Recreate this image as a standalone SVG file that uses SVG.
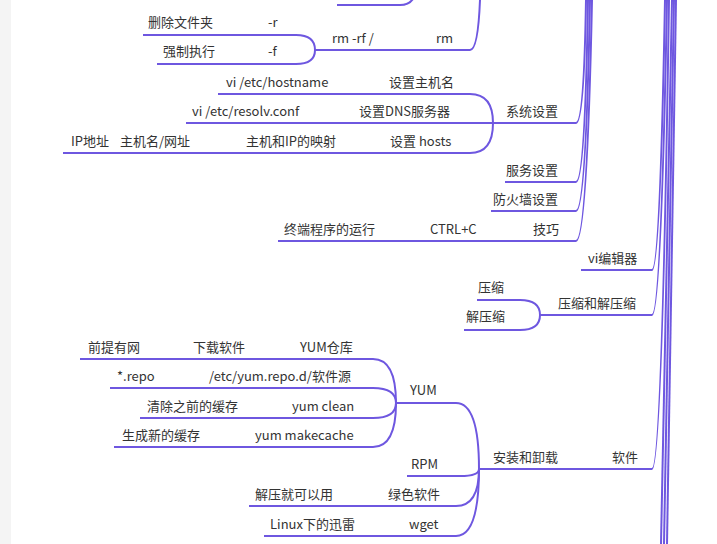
<svg xmlns="http://www.w3.org/2000/svg" width="717" height="544" viewBox="0 0 717 544">
<style>
text{font-family:"Noto Sans CJK SC","Noto Sans",sans-serif;font-size:13px;fill:#333}
.c path{fill:none;stroke:#6e57e0;stroke-width:2}
</style>
<rect width="717" height="544" fill="#fff"/>
<rect width="11" height="544" fill="#f4f4f4"/>
<g class="c" id="connectors">
<path d="M337,5 H400 Q414,5 416,-10"/>
<path d="M315,50 H470 Q478,50 480,0"/>
<path d="M143,35 H296 Q315,35 315,50 Q315,64 296,64 H157"/>
<path d="M218,94 H470 Q493,94 493,123 Q493,153 470,153 H63"/>
<path d="M186,123 H576 Q584,123 586,0"/>
<path d="M505,182 H576 Q585,182 588,0"/>
<path d="M491,211 H576 Q586,211 590,0"/>
<path d="M278,241 H576 Q587,241 592,0"/>
<path d="M581,270 H652 Q660,270 665,0"/>
<path d="M477,300 H520 Q540,300 540,315 Q540,330 520,330 H464"/>
<path d="M540,315 H652 Q661,315 667,0"/>
<path d="M80,359 H373 Q396,359 396,403 Q396,447 373,447 H114"/>
<path d="M110,388 H373 Q396,388 396,403 Q396,418 373,418 H140"/>
<path d="M396,403 H456 Q479,403 479,469 Q479,536 456,536 H264"/>
<path d="M407,476 H460 Q479,476 479,469"/>
<path d="M249,506 H456 Q479,506 479,469"/>
<path d="M479,469 H652 Q662,469 669,0"/>
<path d="M661,544 Q666,300 672,0"/>
<path d="M664,544 Q669,300 674,0"/>
<path d="M667,544 Q671,300 676,0"/>
</g>
<g id="n-rm"><text x="332" y="43">rm  -rf  /</text><text x="436" y="43">rm</text></g>
<g id="n-r"><text x="148" y="27">删除文件夹</text><text x="268" y="27">-r</text></g>
<g id="n-f"><text x="163" y="56">强制执行</text><text x="268" y="56">-f</text></g>
<g id="n-sys"><text x="506" y="116">系统设置</text></g>
<g id="n-host"><text x="226" y="87">vi  /etc/hostname</text><text x="389" y="87">设置主机名</text></g>
<g id="n-dns"><text x="192" y="116">vi /etc/resolv.conf</text><text x="359" y="116">设置DNS服务器</text></g>
<g id="n-hosts"><text x="71" y="146">IP地址</text><text x="120" y="146">主机名/网址</text><text x="246" y="146">主机和IP的映射</text><text x="390" y="146">设置 hosts</text></g>
<g id="n-svc"><text x="506" y="175">服务设置</text></g>
<g id="n-fw"><text x="493" y="204">防火墙设置</text></g>
<g id="n-tip"><text x="284" y="234">终端程序的运行</text><text x="430" y="234">CTRL+C</text><text x="533" y="234">技巧</text></g>
<g id="n-vi"><text x="588" y="263">vi编辑器</text></g>
<g id="n-zip"><text x="558" y="308">压缩和解压缩</text><text x="478" y="292">压缩</text><text x="466" y="321">解压缩</text></g>
<g id="n-yum"><text x="410" y="395">YUM</text></g>
<g id="n-repo"><text x="88" y="352">前提有网</text><text x="193" y="352">下载软件</text><text x="300" y="352">YUM仓库</text></g>
<g id="n-src"><text x="117" y="381">*.repo</text><text x="209" y="381">/etc/yum.repo.d/软件源</text></g>
<g id="n-clean"><text x="147" y="411">清除之前的缓存</text><text x="292" y="411">yum clean</text></g>
<g id="n-mk"><text x="122" y="440">生成新的缓存</text><text x="255" y="440">yum makecache</text></g>
<g id="n-inst"><text x="493" y="462">安装和卸载</text><text x="612" y="462">软件</text></g>
<g id="n-rpm"><text x="411" y="469">RPM</text></g>
<g id="n-green"><text x="255" y="499">解压就可以用</text><text x="388" y="499">绿色软件</text></g>
<g id="n-wget"><text x="270" y="529">Linux下的迅雷</text><text x="409" y="529">wget</text></g>
</svg>
